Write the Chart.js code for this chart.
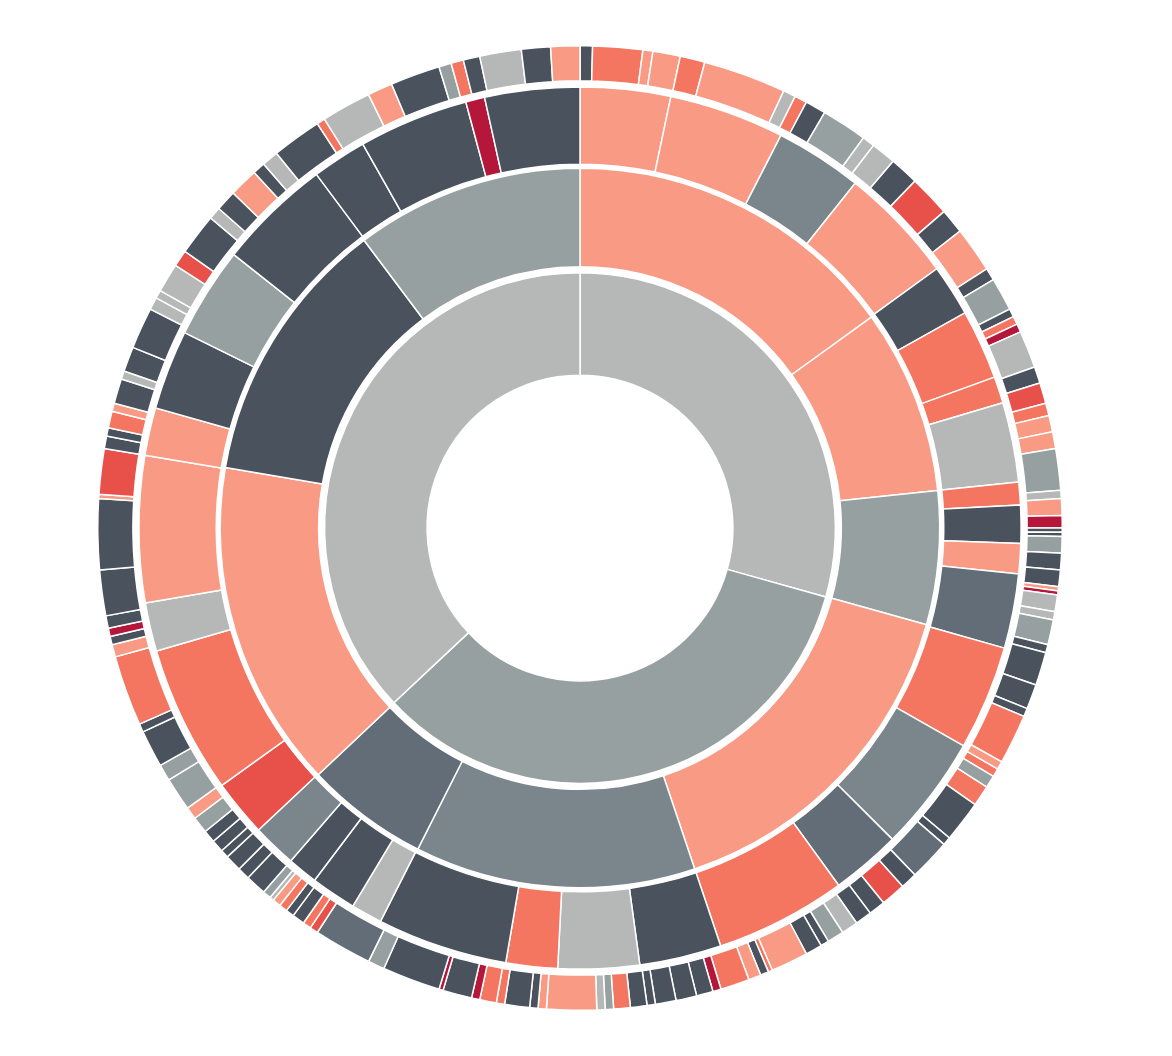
<!DOCTYPE html>
<html><head><meta charset="utf-8">
<script src="https://cdn.jsdelivr.net/npm/chart.js@4"></script>
<style>html,body{margin:0;padding:0;background:#fff;width:1172px;height:1056px;overflow:hidden}
#wrap{position:absolute;left:97px;top:45px;width:966px;height:966px}</style>
</head><body><div id="wrap"><canvas id="c"></canvas></div>
<script>
const C={s:'#f99a84',c:'#f47560',r:'#e8504a',k:'#b5173a',d:'#4a525e',sl:'#626d77',m:'#7a858c',g:'#97a0a0',l:'#b5b8b7'};
// segment end angles (degrees clockwise from top) and colour keys
const ring1Ends=[105.7,226.8,360];
const ring1Cols=['l','g','l'];
const ring2Ends=[54.1,84,105.6,161.4,206.8,226.7,279.7,323.1,360];
const ring2Cols=['s','s','g','s','m','sl','s','d','g'];
const ring3Ends=[11.9,27.1,38.6,54,60.8,70,73.5,84,87,92,96,105.8,119.6,134.9,144.1,161.4,172.2,182.9,189.7,206.9,211,217,221,226.8,234.3,253.8,260.2,279.5,285.8,296.3,308.3,323.3,330.5,345,347.5,360];
const ring3Cols=['s','s','m','s','d','c','c','l','c','d','s','sl','c','m','sl','c','d','l','c','d','l','d','d','m','r','c','l','s','s','d','g','d','d','d','k','d'];
const ring4Ends=[1.5,7.5,8.7,12,15,25,26.5,28,30.5,36,37.5,40.5,44,49,52,57.5,59,63,64,65,66,70.5,72.5,75,76.5,78.5,80.5,85.5,86.5,88.5,90,90.5,91,93,95,97,97.5,98,100,101,104,105,109,112,113,119,120,121,122.5,125,130,131,136,138,141,143,145,147,149,150,152,156.5,157,158,159.5,163,164,166,168.5,171,172,174,176,177,178,184,185,186,189,190,192,193,196.5,197,204,206,213,214,215,216.5,217.5,218.5,219.5,220,221,223.5,225,227,228,229.5,231,233,234.5,238.5,240.5,245,246,254.5,256,257,258,259.5,265,273.5,274,279.5,281,282,284,285,288,289,292,297,298.5,299.5,303,305,310,311.5,314,317.5,319,321,327,328,334,337,343,344.5,346,348,353,356.5,360];
const ring4Cols=['d','c','s','s','c','s','l','c','d','g','l','l','d','r','d','s','d','g','d','c','k','l','d','r','c','s','s','g','l','s','k','d','d','g','d','d','s','k','l','l','g','d','d','d','d','c','s','c','g','c','d','d','sl','d','r','d','d','l','g','d','d','s','c','d','s','c','k','d','d','d','d','d','c','g','l','s','s','d','d','c','c','k','d','k','d','g','sl','r','c','d','d','c','s','l','g','d','d','d','d','d','d','g','s','g','g','d','d','c','s','d','k','d','d','d','s','r','d','d','c','s','d','l','d','d','l','l','l','r','d','l','d','s','d','l','d','c','l','s','d','g','c','d','l','d','s'];
function sizes(e){return e.map((v,i)=>v-(i?e[i-1]:0));}
function ds(ends,cols,w){return {data:sizes(ends),backgroundColor:cols.map(k=>C[k]),borderColor:'#fff',borderWidth:1.5,weight:w};}
function gap(w){return {data:[1],backgroundColor:'rgba(0,0,0,0)',borderWidth:0,weight:w};}
new Chart(document.getElementById('c'),{type:'doughnut',
data:{datasets:[ds(ring4Ends,ring4Cols,35),gap(6),ds(ring3Ends,ring3Cols,77),gap(4),ds(ring2Ends,ring2Cols,98),gap(6),ds(ring1Ends,ring1Cols,102)]},
options:{responsive:true,maintainAspectRatio:false,animation:false,cutout:'31.7%',layout:{padding:0},
plugins:{legend:{display:false},tooltip:{enabled:false}},events:[]}});
</script></body></html>
